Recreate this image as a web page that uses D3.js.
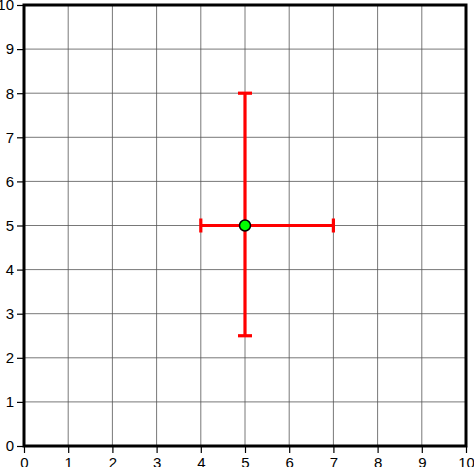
<!DOCTYPE html>
<html><head><meta charset="utf-8">
<script src="https://cdn.jsdelivr.net/npm/d3@7"></script>
<style>html,body{margin:0;padding:0;background:#fff;overflow:hidden}</style>
</head><body>
<svg id="c" width="474" height="467"></svg>
<script>
const xTicks = [0,1,2,3,4,5,6,7,8,9,10];
const yTicks = [0,1,2,3,4,5,6,7,8,9,10];
const pointX = [5];
const pointY = [5];
const xErrLow = [4];
const xErrHigh = [7];
const yErrLow = [2.5];
const yErrHigh = [8];

const svg = d3.select("#c");
const L = 24, R = 466, T = 5, B = 446;
const x = d3.scaleLinear().domain([0,10]).range([L,R]);
const y = d3.scaleLinear().domain([0,10]).range([B,T]);

// grid
svg.append("g").selectAll("line").data(xTicks).join("line")
  .attr("x1", d=>x(d)).attr("x2", d=>x(d)).attr("y1", T).attr("y2", B)
  .attr("stroke", "#555").attr("stroke-width", 0.8);
svg.append("g").selectAll("line").data(yTicks).join("line")
  .attr("y1", d=>y(d)).attr("y2", d=>y(d)).attr("x1", L).attr("x2", R)
  .attr("stroke", "#555").attr("stroke-width", 0.8);

// axes
const fontSpec = g => g.selectAll("text").attr("font-family","Liberation Sans, Arial, sans-serif").attr("font-size",15).attr("fill","#000");
const ax = svg.append("g").attr("transform",`translate(0,${B})`)
  .call(d3.axisBottom(x).tickValues(xTicks).tickFormat(d3.format("d")).tickSize(7).tickPadding(4));
ax.call(fontSpec); ax.select(".domain").remove();
ax.selectAll("line").attr("stroke-width",1.2);
const ay = svg.append("g").attr("transform",`translate(${L},0)`)
  .call(d3.axisLeft(y).tickValues(yTicks).tickFormat(d3.format("d")).tickSize(7).tickPadding(3));
ay.call(fontSpec); ay.select(".domain").remove();
ay.selectAll("line").attr("stroke-width",1.2);

// frame
svg.append("rect").attr("x",L).attr("y",T).attr("width",R-L).attr("height",B-T)
  .attr("fill","none").attr("stroke","#000").attr("stroke-width",3);

// error bars
const eb = svg.append("g").attr("stroke","#f00").attr("stroke-width",3.2).attr("fill","none");
const cap = 7;
pointX.forEach((px,i)=>{
  const py = pointY[i];
  eb.append("line").attr("x1",x(xErrLow[i])).attr("x2",x(xErrHigh[i])).attr("y1",y(py)).attr("y2",y(py));
  eb.append("line").attr("x1",x(px)).attr("x2",x(px)).attr("y1",y(yErrLow[i])).attr("y2",y(yErrHigh[i]));
  eb.append("line").attr("x1",x(xErrLow[i])).attr("x2",x(xErrLow[i])).attr("y1",y(py)-cap).attr("y2",y(py)+cap);
  eb.append("line").attr("x1",x(xErrHigh[i])).attr("x2",x(xErrHigh[i])).attr("y1",y(py)-cap).attr("y2",y(py)+cap);
  eb.append("line").attr("y1",y(yErrLow[i])).attr("y2",y(yErrLow[i])).attr("x1",x(px)-cap).attr("x2",x(px)+cap);
  eb.append("line").attr("y1",y(yErrHigh[i])).attr("y2",y(yErrHigh[i])).attr("x1",x(px)-cap).attr("x2",x(px)+cap);
});
svg.append("g").selectAll("circle").data(pointX).join("circle")
  .attr("cx",d=>x(d)).attr("cy",(d,i)=>y(pointY[i])).attr("r",5.5)
  .attr("fill","#00ff00").attr("stroke","#000").attr("stroke-width",1.5);
</script>
</body></html>
